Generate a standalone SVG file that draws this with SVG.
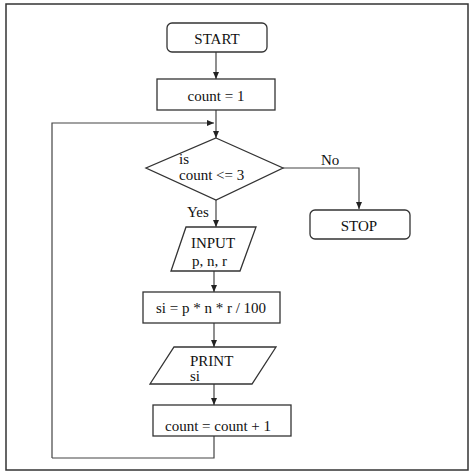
<svg xmlns="http://www.w3.org/2000/svg" width="474" height="475" viewBox="0 0 474 475">
<defs><marker id="a" markerWidth="8" markerHeight="8" refX="7" refY="4" orient="auto" markerUnits="userSpaceOnUse"><path d="M0,1 L7,4 L0,7 z" fill="#222"/></marker></defs>
<style>.s{fill:#fff;stroke:#333;stroke-width:1.3}.t{font-family:"Liberation Serif",serif;font-size:15px;fill:#111}.c{fill:none;stroke:#444;stroke-width:1.2}</style>
<rect width="474" height="475" fill="#fff"/>
<rect x="6" y="4" width="462" height="466" fill="none" stroke="#333" stroke-width="1.5"/>
<g id="connectors">
<path class="c" d="M216,52V79" marker-end="url(#a)"/>
<path class="c" d="M216,110V138" marker-end="url(#a)"/>
<path class="c" d="M52,458V123H214" marker-end="url(#a)"/>
<path class="c" d="M283,168H359V209" marker-end="url(#a)"/>
<path class="c" d="M216,200V227" marker-end="url(#a)"/>
<path class="c" d="M214,271V292" marker-end="url(#a)"/>
<path class="c" d="M214,323V347" marker-end="url(#a)"/>
<path class="c" d="M214,384V405" marker-end="url(#a)"/>
<path class="c" d="M214,436V458H52"/>
<text class="t" x="321" y="165">No</text>
<text class="t" x="187" y="217">Yes</text>
</g>
<g id="start"><rect class="s" x="167" y="23" width="100" height="29" rx="5"/><text class="t" x="217" y="44" text-anchor="middle">START</text></g>
<g id="init"><rect class="s" x="157" y="79" width="118" height="31"/><text class="t" x="216" y="101" text-anchor="middle">count = 1</text></g>
<g id="decision"><path class="s" d="M216,138L283,168L216,200L146,168Z"/><text class="t" x="179" y="164" font-size="13">is</text><text class="t" x="179" y="180">count &lt;= 3</text></g>
<g id="stop"><rect class="s" x="310" y="210" width="100" height="29" rx="5"/><text class="t" x="359" y="231" text-anchor="middle">STOP</text></g>
<g id="input"><path class="s" d="M186,227H256L240,271H171Z"/><text class="t" x="213" y="248" text-anchor="middle">INPUT</text><text class="t" x="192" y="266">p, n, r</text></g>
<g id="calc"><rect class="s" x="143" y="292" width="137" height="31"/><text class="t" x="211" y="313" text-anchor="middle">si = p * n * r / 100</text></g>
<g id="print"><path class="s" d="M174,347H276L252,384H150Z"/><text class="t" x="190" y="366">PRINT</text><text class="t" x="190" y="381">si</text></g>
<g id="incr"><rect class="s" x="153" y="405" width="138" height="31"/><text class="t" x="165" y="431">count = count + 1</text></g>
</svg>
